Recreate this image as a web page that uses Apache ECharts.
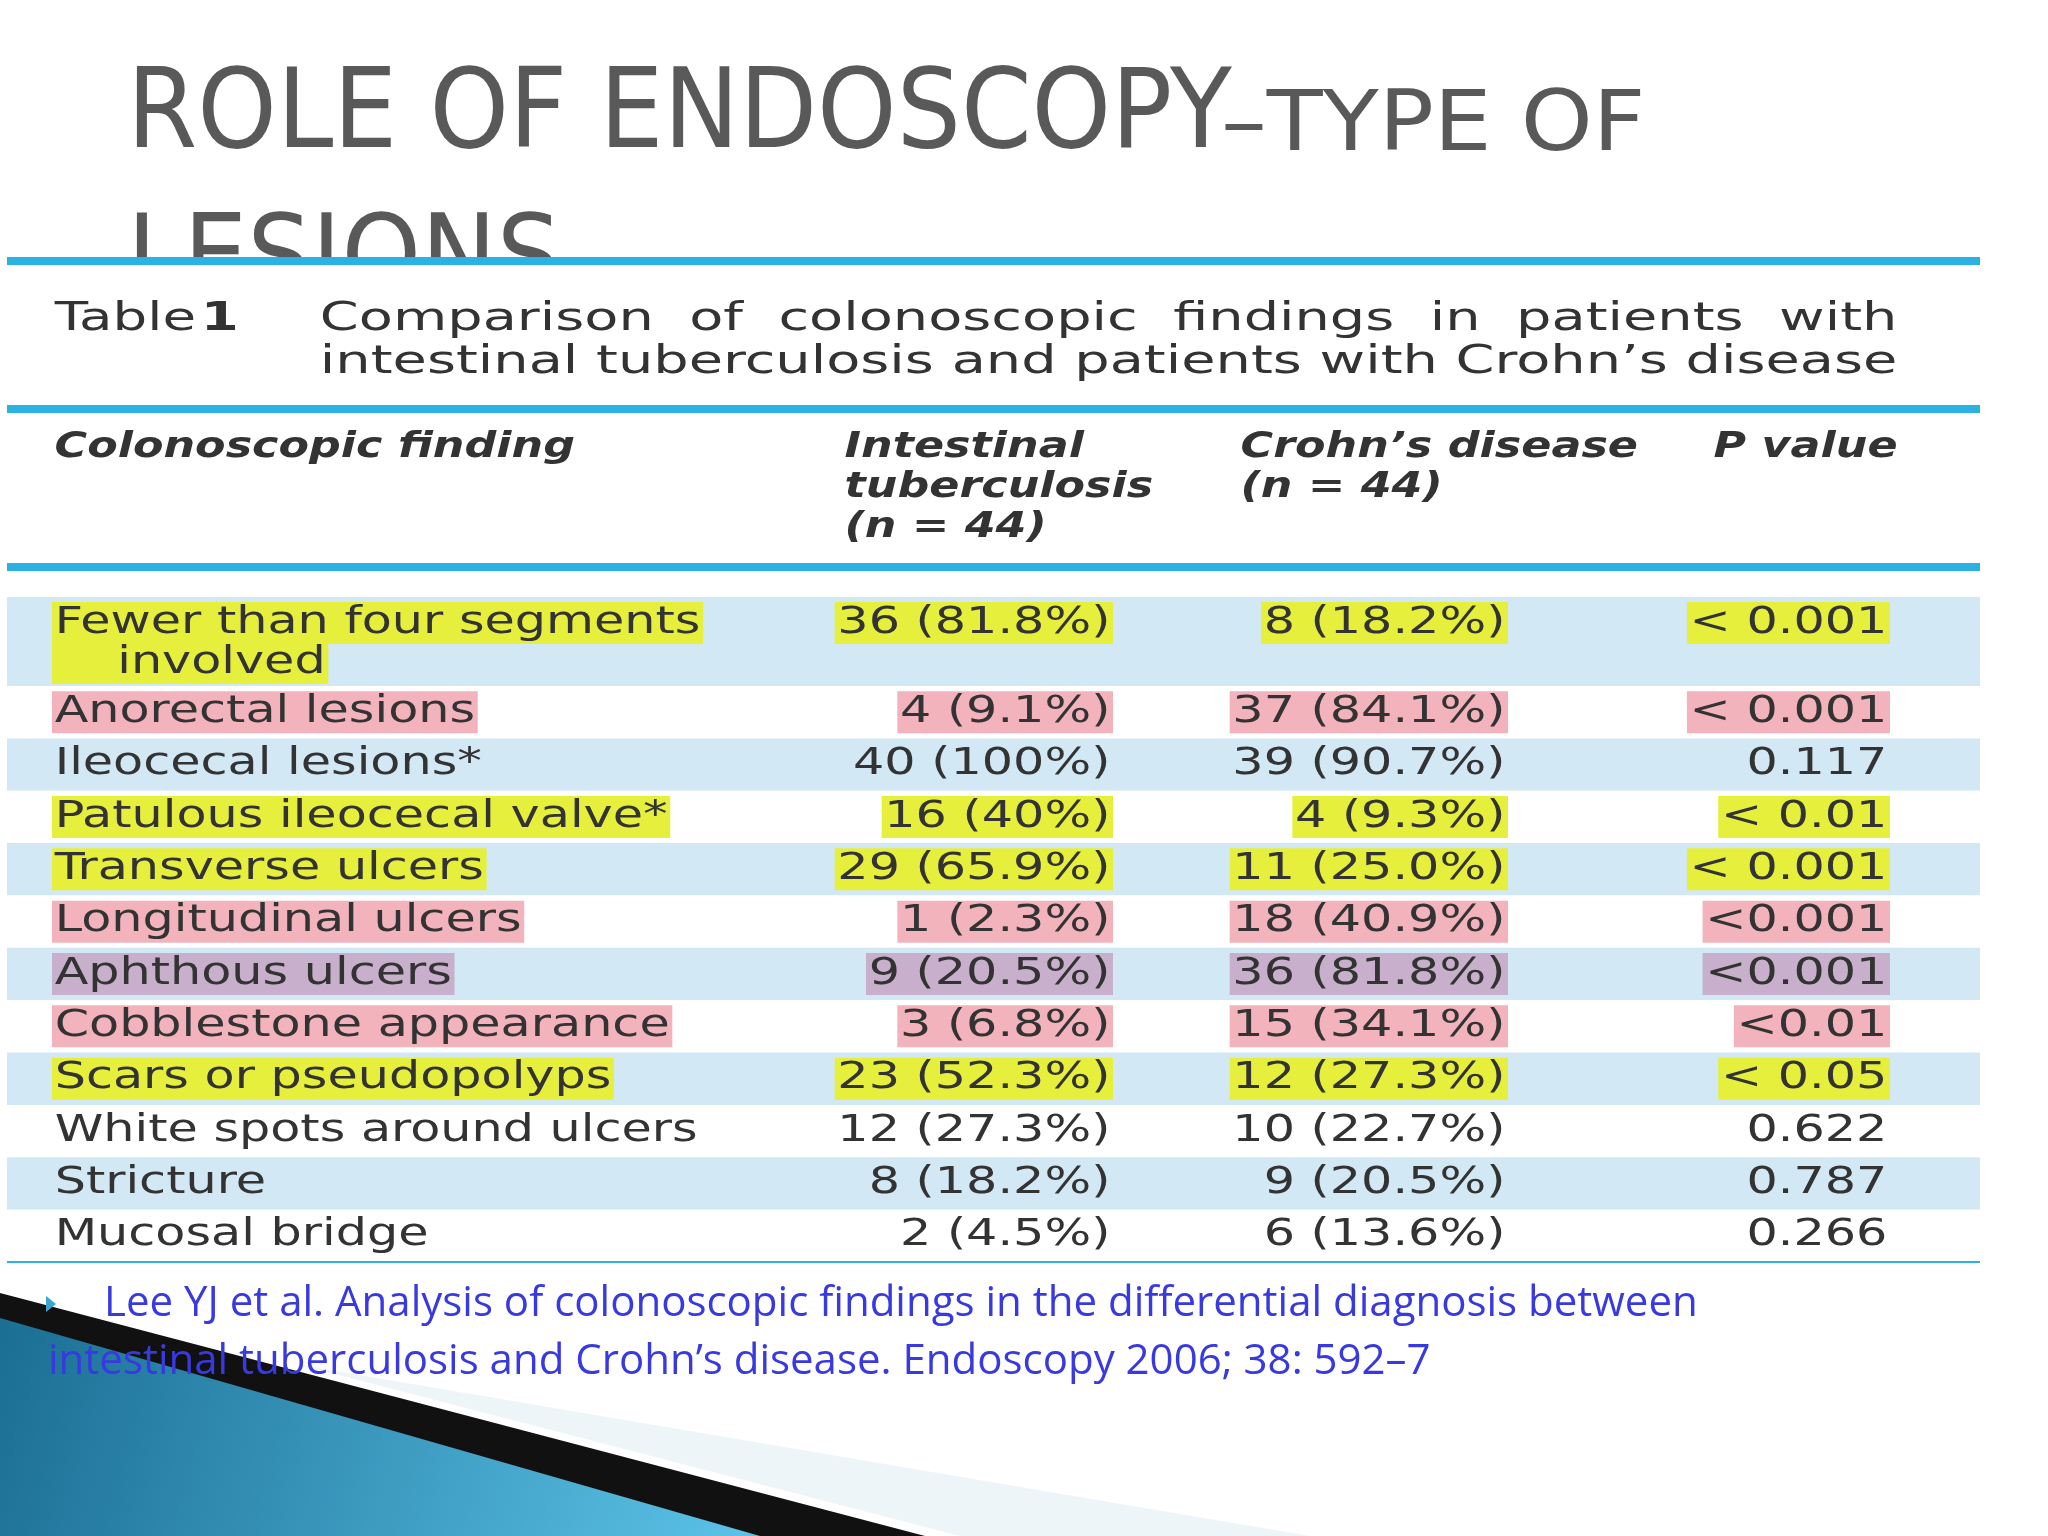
<!DOCTYPE html>
<html><head><meta charset="utf-8">
<script src="https://cdn.jsdelivr.net/npm/echarts@6/dist/echarts.min.js"></script>
<style>html,body{margin:0;padding:0;background:#fff}#c{width:2048px;height:1536px}</style>
</head><body><div id="c"></div>
<script>
const findings=["Fewer than four segments","Anorectal lesions","Ileocecal lesions*","Patulous ileocecal valve*","Transverse ulcers","Longitudinal ulcers","Aphthous ulcers","Cobblestone appearance","Scars or pseudopolyps","White spots around ulcers","Stricture","Mucosal bridge"];
const itb=["36 (81.8%)","4 (9.1%)","40 (100%)","16 (40%)","29 (65.9%)","1 (2.3%)","9 (20.5%)","3 (6.8%)","23 (52.3%)","12 (27.3%)","8 (18.2%)","2 (4.5%)"];
const cd=["8 (18.2%)","37 (84.1%)","39 (90.7%)","4 (9.3%)","11 (25.0%)","18 (40.9%)","36 (81.8%)","15 (34.1%)","12 (27.3%)","10 (22.7%)","9 (20.5%)","6 (13.6%)"];
const pval=["< 0.001","< 0.001","0.117","< 0.01","< 0.001","<0.001","<0.001","<0.01","< 0.05","0.622","0.787","0.266"];
const highlight=["y","p","","y","y","p","v","p","y","","",""];
const rowSpan=[1.7,1,1,1,1,1,1,1,1,1,1,1];
const hl={y:"#e6f03c",p:"#f2b3bd",v:"#c8b0cc","":null};
const chart=echarts.init(document.getElementById('c'));
let acc=0;const data=rowSpan.map((s,i)=>{const d=[i,acc,acc+s];acc+=s;return d;});
const F='"DejaVu Sans", Verdana, sans-serif';
function txt(x,y,t,align,bg,sx,font,extra){return Object.assign({type:'text',x:x,y:y,scaleX:sx||1.33,style:{x:0,y:0,text:t,align:align,verticalAlign:'middle',font:font||('37px '+F),fill:'#333',backgroundColor:bg,padding:[1,2,1,2],lineHeight:40}},extra||{});}
chart.setOption({
animation:false,
grid:{left:7,right:68,top:597,bottom:274},
xAxis:{type:'value',min:0,max:1973,show:false},
yAxis:{type:'value',min:0,max:acc,inverse:true,show:false},
series:[{type:'custom',data:data,renderItem:function(p,api){
 const i=api.value(0),a=api.coord([0,api.value(1)]),b=api.coord([1973,api.value(2)]);
 const bg=hl[highlight[i]];const top=a[1],h=b[1]-a[1];
 const cy=i===0?top+26:top+h/2;
 const ch=[{type:'rect',shape:{x:a[0],y:top,width:b[0]-a[0],height:h},style:{fill:i%2===0?'#d2e8f4':'#ffffff'}}];
 ch.push(txt(52,cy,findings[i],'left',bg));
 if(i===0) ch.push(txt(52,cy+40,"    involved",'left',bg));
 ch.push(txt(1113,cy,itb[i],'right',bg));
 ch.push(txt(1508,cy,cd[i],'right',bg));
 ch.push(txt(1890,cy,pval[i],'right',bg));
 return {type:'group',children:ch};
}}],
graphic:[
 {type:'text',z:1,x:127,y:209,scaleX:0.92,style:{x:0,y:0,text:'LESIONS',font:'110px '+F,fill:'#595959',verticalAlign:'top'}},
 {type:'rect',z:2,shape:{x:0,y:264,width:2048,height:330},style:{fill:'#fff'}},
 {type:'text',z:3,x:127,y:173,scaleX:0.92,style:{x:0,y:0,text:'ROLE OF ENDOSCOPY',font:'110px '+F,fill:'#595959',verticalAlign:'bottom'}},
 {type:'text',z:3,x:1221,y:170,scaleX:1.09,style:{x:0,y:0,text:'–TYPE OF',font:'84px '+F,fill:'#595959',verticalAlign:'bottom'}},
 {type:'rect',z:4,shape:{x:7,y:257,width:1973,height:8},style:{fill:'#2cb2e2'}},
 Object.assign(txt(52,320,'Table ','left',null,1.4,'39px '+F),{z:4}),
 Object.assign(txt(198,320,'1','left',null,1.4,'bold 39px '+F),{z:4}),
 Object.assign(txt(317,320,'Comparison  of  colonoscopic  findings  in  patients  with','left',null,1.43,'39px '+F),{z:4}),
 Object.assign(txt(317,363,'intestinal tuberculosis and patients with Crohn’s disease','left',null,1.43,'39px '+F),{z:4}),
 {type:'rect',z:4,shape:{x:7,y:405,width:1973,height:8},style:{fill:'#2cb2e2'}},
 Object.assign(txt(52,448,'Colonoscopic finding','left',null,1.27,'italic bold 35px '+F),{z:4}),
 Object.assign(txt(842,448,'Intestinal','left',null,1.27,'italic bold 35px '+F),{z:4}),
 Object.assign(txt(842,488,'tuberculosis','left',null,1.27,'italic bold 35px '+F),{z:4}),
 Object.assign(txt(842,528,'(n = 44)','left',null,1.27,'italic bold 35px '+F),{z:4}),
 Object.assign(txt(1238,448,'Crohn’s disease','left',null,1.27,'italic bold 35px '+F),{z:4}),
 Object.assign(txt(1238,488,'(n = 44)','left',null,1.27,'italic bold 35px '+F),{z:4}),
 Object.assign(txt(1711,448,'P value','left',null,1.27,'italic bold 35px '+F),{z:4}),
 {type:'rect',z:4,shape:{x:7,y:563,width:1973,height:8},style:{fill:'#2cb2e2'}},
 {type:'rect',z:4,shape:{x:7,y:1261,width:1973,height:2},style:{fill:'#2cb2e2'}},
 {type:'polygon',z:0,shape:{points:[[0,1293],[0,1536],[925,1536]]},style:{fill:'#111'}},
 {type:'polygon',z:0,shape:{points:[[0,1318],[0,1536],[760,1536]]},style:{fill:new echarts.graphic.LinearGradient(0,0,1,1,[{offset:0,color:'#1b6e94'},{offset:1,color:'#5cc3e8'}])}},
 {type:'polygon',z:0,shape:{points:[[300,1365],[1310,1536],[960,1536]]},style:{fill:'#eef5f8'}},
 {type:'text',z:5,style:{x:104,y:1304,text:'Lee YJ et al. Analysis of colonoscopic findings in the differential diagnosis between',font:'42px "Open Sans", sans-serif',fill:'#3939e0',verticalAlign:'middle'}},
 {type:'text',z:5,style:{x:48,y:1362,text:'intestinal tuberculosis and Crohn’s disease. Endoscopy 2006; 38: 592–7',font:'42px "Open Sans", sans-serif',fill:'#3939e0',verticalAlign:'middle'}},
 {type:'polygon',z:5,shape:{points:[[46,1296],[46,1312],[56,1304]]},style:{fill:'#3aa6d0'}}
]});
</script></body></html>
